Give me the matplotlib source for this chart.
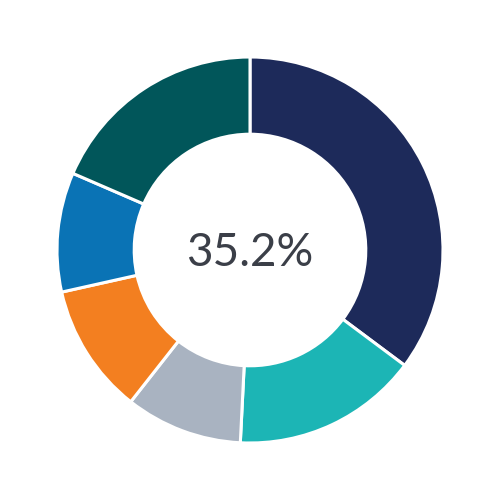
import matplotlib
matplotlib.use("Agg")
import matplotlib.pyplot as plt

labels = ["A", "B", "C", "D", "E", "F"]
values = [35.2, 15.6, 9.8, 10.9, 10.0, 18.5]
colors = ["#1d2a5a", "#1cb5b5", "#a9b3c1", "#f37f20", "#0a73b5", "#01565a"]
center_label = "35.2%"

fig = plt.figure(figsize=(5, 5), dpi=100)
ax = fig.add_axes([0, 0, 1, 1])
R = 193 / 250
ax.pie(values, colors=colors, startangle=90, counterclock=False, radius=R,
       wedgeprops=dict(width=R * 0.40, edgecolor="white", linewidth=2.2))
ax.set_xlim(-1, 1)
ax.set_ylim(-1, 1)
ax.set_aspect("equal")
ax.axis("off")
ax.text(0, -0.01, center_label, ha="center", va="center", fontsize=33,
        family=["Lato", "DejaVu Sans"], color="#3b3f48")
fig.savefig("out.png", dpi=100, facecolor="white")
